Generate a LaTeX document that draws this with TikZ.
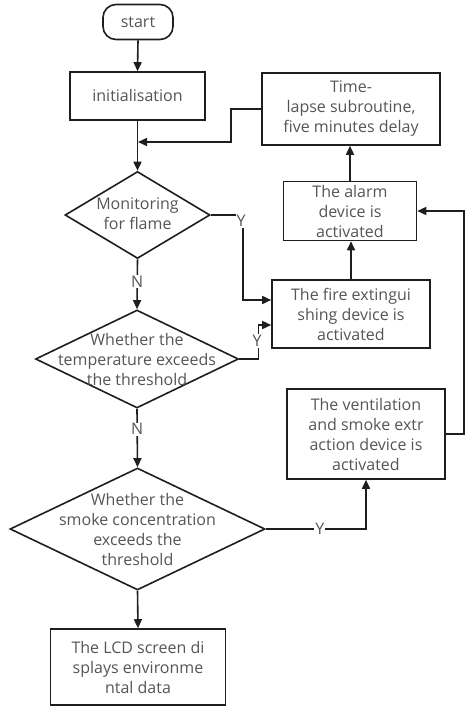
\documentclass[tikz,border=0pt]{standalone}
\usepackage{fontspec}
\setmainfont{Open Sans}
\usetikzlibrary{shapes.geometric,arrows.meta,calc}
\definecolor{linec}{HTML}{1E1E1E}
\definecolor{textc}{HTML}{555555}
\begin{document}
\begin{tikzpicture}[x=1pt,y=-1pt,
  every node/.style={font=\fontsize{16}{20}\selectfont, text=textc, align=center, inner sep=0pt},
  box/.style={draw=linec, line width=1.6pt, rectangle},
  dia/.style={draw=linec, line width=1.6pt, diamond, aspect=2},
  arr/.style={draw=linec, line width=1.6pt, -{Triangle[length=9pt,width=8pt]}},
  lab/.style={fill=white, inner sep=1pt}]
\useasboundingbox (0,0) rectangle (474,714);
% nodes
\node[box, rounded corners=13pt, minimum width=70pt, minimum height=35pt] (start) at (138,22) {start};
\node[box, minimum width=135pt, minimum height=48pt] (init) at (137.5,96) {initialisation};
\node[dia, minimum width=145pt, minimum height=87pt] (mon) at (137.5,215) {};
\node (mont) at (137.5,214) {Monitoring\\for flame};
\node[dia, minimum width=203pt, minimum height=98pt] (temp) at (137,359) {};
\node (tempt) at (137,359) {Whether the\\temperature exceeds\\the threshold};
\node[dia, minimum width=255pt, minimum height=122pt] (smoke) at (137.5,529) {};
\node (smoket) at (137.5,529) {Whether the\\smoke concentration\\exceeds the\\threshold};
\node[box, minimum width=175pt, minimum height=76pt] (lcd) at (138,667) {The LCD screen di\\splays environme\\ntal data};
\node[box, minimum width=178pt, minimum height=72pt] (tl) at (351,109) {Time-\\lapse subroutine,\\five minutes delay};
\node[box, minimum width=133pt, minimum height=59pt] (alarm) at (350,211) {The alarm\\device is\\activated};
\node[box, minimum width=158pt, minimum height=68pt] (fire) at (351,314) {The fire extingui\\shing device is\\activated};
\node[box, minimum width=158pt, minimum height=90pt] (vent) at (366,434) {The ventilation\\and smoke extr\\action device is\\activated};
\coordinate (m1) at (138,142);
% connectors
\draw[arr] (start.south) -- (init.north);
\draw[arr] (init.south) -- (mon.north);
\draw[arr] (tl.west) -- ++(-30,0) |- (m1);
\draw[arr] (mon.south) -- (temp.north) node[lab, pos=0.45] {N};
\draw[arr] (temp.south) -- (smoke.north) node[lab, pos=0.35] {N};
\draw[arr] (smoke.south) -- (lcd.north);
\draw[arr] (mon.east) -- ++(32,0) |- ([yshift=14pt]fire.west);
\node[lab] (y1) at (241,221) {Y};
\draw[arr] (temp.east) -- ++(19,0) |- ([yshift=-11pt]fire.west);
\node[lab] (y2) at (257,341) {Y};
\draw[arr] (smoke.east) -| (vent.south) node[lab, pos=0.27] {Y};
\draw[arr] (vent.east) -- ++(18,0) |- (alarm.east);
\draw[arr] (fire.north) -- (fire.north |- alarm.south);
\draw[arr] (alarm.north) -- (alarm.north |- tl.south);
\end{tikzpicture}
\end{document}
